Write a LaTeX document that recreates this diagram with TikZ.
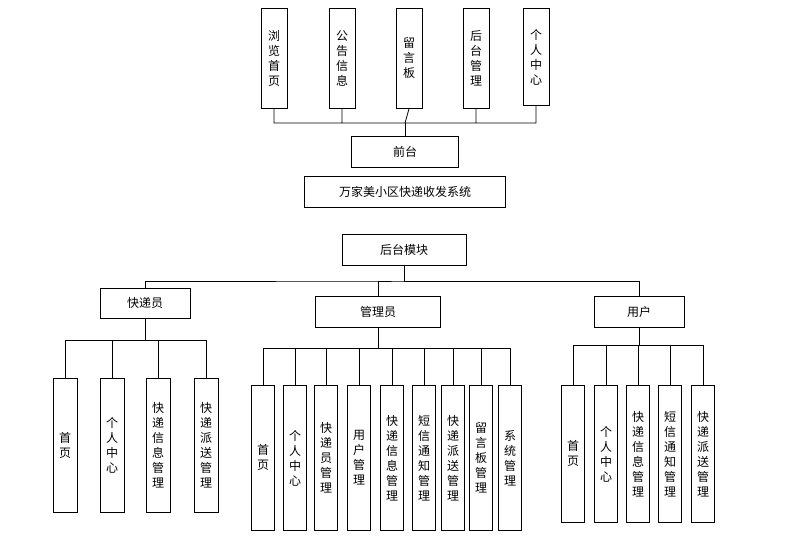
\documentclass[tikz,border=0pt]{standalone}
\usepackage{fontspec}
\setmainfont{Noto Sans CJK SC}
\begin{document}
\begin{tikzpicture}[x=1pt,y=-1pt,
 b/.style={draw,thick,fill=white,font=\fontsize{12}{15}\selectfont,inner sep=0pt,align=center},
 v/.style={b,minimum width=26pt,anchor=north},
 ln/.style={thick}]
\useasboundingbox (0,0) rectangle (802,547);
% top
\foreach \n/\x/\h/\t in {t1/274/100/{浏\\览\\首\\页},t2/342/100/{公\\告\\信\\息},t3/409/100/{留\\言\\板},t4/476/100/{后\\台\\管\\理},t5/536/97/{个\\人\\中\\心}}
  \node[v,minimum height=\h pt] (\n) at (\x,8) {\t};
\node[b,minimum width=107pt,minimum height=31pt] (qt) at (405,152) {前台};
\node[b,minimum width=201pt,minimum height=31pt] (sys) at (405,192) {万家美小区快递收发系统};
\node[b,minimum width=124pt,minimum height=31pt] (ht) at (404,250) {后台模块};
\coordinate (tb) at (405,123);
\draw[ln] (t1.south) |- (tb) (t5.south) |- (tb) (t2.south) |- (tb) (t3.south) -- (tb) (t4.south) |- (tb);
\draw[ln] (tb) -- (qt.north);
\draw[ln] (ht.south) -- (404,281);
% level 2
\node[b,minimum width=90pt,minimum height=30pt] (kd) at (145,303) {快递员};
\node[b,minimum width=125pt,minimum height=31pt] (gl) at (378,312) {管理员};
\node[b,minimum width=90pt,minimum height=31pt] (yh) at (639,312) {用户};
\draw[ln] (kd.north) |- (404,281) -| (gl.north);
\draw[ln] (404,281) -| (yh.north);
% kd children
\foreach \n/\x/\t in {k1/65/{首\\页},k2/112/{个\\人\\中\\心},k3/158/{快\\递\\信\\息\\管\\理},k4/206/{快\\递\\派\\送\\管\\理}}{
  \node[v,minimum width=24pt,minimum height=134pt] (\n) at (\x,378) {\t};
  \draw[ln] (\n.north) -- (\x,340);}
\draw[ln] (65,340) -- (206,340) (kd.south) -- (145,340);
% gl children
\foreach \n/\x/\t in {g1/263/{首\\页},g2/295/{个\\人\\中\\心},g3/326/{快\\递\\员\\管\\理},g4/359/{用\\户\\管\\理},g5/392/{快\\递\\信\\息\\管\\理},g6/424/{短\\信\\通\\知\\管\\理},g7/453/{快\\递\\派\\送\\管\\理},g8/481/{留\\言\\板\\管\\理},g9/510/{系\\统\\管\\理}}{
  \node[v,minimum width=23pt,minimum height=145pt] (\n) at (\x,385) {\t};
  \draw[ln] (\n.north) -- (\x,348);}
\draw[ln] (263,348) -- (510,348) (gl.south) -- (378,348);
% yh children
\foreach \n/\x/\t in {y1/573/{首\\页},y2/606/{个\\人\\中\\心},y3/638/{快\\递\\信\\息\\管\\理},y4/670/{短\\信\\通\\知\\管\\理},y5/703/{快\\递\\派\\送\\管\\理}}{
  \node[v,minimum width=23pt,minimum height=137pt] (\n) at (\x,385) {\t};
  \draw[ln] (\n.north) -- (\x,345);}
\draw[ln] (573,345) -- (703,345) (yh.south) -- (639,345);
\end{tikzpicture}
\end{document}
